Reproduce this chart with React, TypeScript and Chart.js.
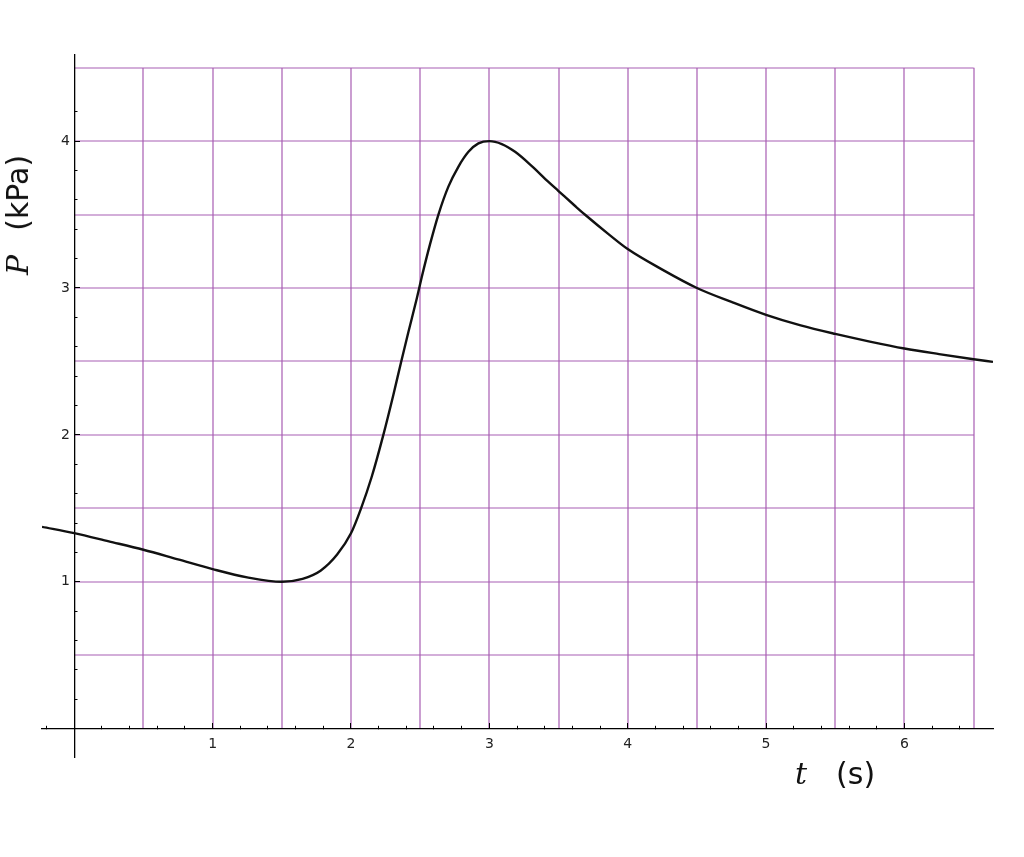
import React, { useRef, useEffect } from "react";
import Chart from "chart.js/auto";

// curve: time (s) and pressure (kPa)
const tValues = [
  -0.233, 0, 0.25, 0.5, 0.75, 1, 1.25, 1.5, 1.65, 1.78, 1.9, 2, 2.071, 2.15,
  2.234, 2.307, 2.362, 2.415, 2.476, 2.512, 2.572, 2.632, 2.704, 2.776, 2.849,
  2.921, 3, 3.09, 3.186, 3.307, 3.427, 3.5, 3.62, 3.69, 3.87, 4, 4.25, 4.5,
  4.75, 5, 5.25, 5.5, 5.75, 6, 6.25, 6.5, 6.64,
];
const pValues = [
  1.374, 1.331, 1.275, 1.218, 1.152, 1.086, 1.03, 1.0, 1.02, 1.075, 1.185,
  1.33, 1.495, 1.715, 2.0, 2.275, 2.495, 2.7, 2.93, 3.076, 3.3, 3.5, 3.69,
  3.825, 3.927, 3.984, 4.0, 3.98, 3.927, 3.83, 3.722, 3.66, 3.558, 3.5, 3.36,
  3.265, 3.125, 3.0, 2.905, 2.817, 2.745, 2.687, 2.635, 2.588, 2.55, 2.515,
  2.497,
];

const xMajorTicks = [1, 2, 3, 4, 5, 6];
const xMinorTicks = [
  -0.2, 0.2, 0.4, 0.6, 0.8, 1.2, 1.4, 1.6, 1.8, 2.2, 2.4, 2.6, 2.8, 3.2, 3.4,
  3.6, 3.8, 4.2, 4.4, 4.6, 4.8, 5.2, 5.4, 5.6, 5.8, 6.2, 6.4,
];
const yMajorTicks = [1, 2, 3, 4];
const yMinorTicks = [
  0.2, 0.4, 0.6, 0.8, 1.2, 1.4, 1.6, 1.8, 2.2, 2.4, 2.6, 2.8, 3.2, 3.4, 3.6,
  3.8, 4.2,
];
const xGridLines = [0.5, 1, 1.5, 2, 2.5, 3, 3.5, 4, 4.5, 5, 5.5, 6, 6.5];
const yGridLines = [0.5, 1, 1.5, 2, 2.5, 3, 3.5, 4, 4.5];

const X_MIN = -0.233;
const X_MAX = 6.64;
const Y_MIN = -0.193;
const Y_MAX = 4.586;

const tickFont = { family: "DejaVu Sans", size: 14 };

// purple graph-paper grid, limited to the [0, 6.5] x [0, 4.5] block
const paperGrid = {
  id: "paperGrid",
  beforeDraw(chart: any) {
    const { ctx } = chart;
    const x = chart.scales.x;
    const y = chart.scales.y;
    const left = x.getPixelForValue(0);
    const right = x.getPixelForValue(xGridLines[xGridLines.length - 1]);
    const bottom = y.getPixelForValue(0);
    const top = y.getPixelForValue(yGridLines[yGridLines.length - 1]);
    ctx.save();
    ctx.strokeStyle = "rgba(135, 30, 150, 0.72)";
    ctx.lineWidth = 1.2;
    ctx.beginPath();
    xGridLines.forEach((v) => {
      const px = Math.round(x.getPixelForValue(v));
      ctx.moveTo(px, top);
      ctx.lineTo(px, bottom);
    });
    yGridLines.forEach((v) => {
      const py = Math.round(y.getPixelForValue(v));
      ctx.moveTo(left, py);
      ctx.lineTo(right, py);
    });
    ctx.stroke();
    ctx.restore();
  },
};

const PressureChart = () => {
  const chartRef = useRef<HTMLCanvasElement>(null);
  const chartInstance = useRef<Chart | null>(null);

  useEffect(() => {
    if (chartRef.current) {
      chartInstance.current = new Chart(chartRef.current, {
        type: "line",
        data: {
          datasets: [
            {
              label: "P",
              data: tValues.map((t, i) => ({ x: t, y: pValues[i] })),
              borderColor: "#111111",
              borderWidth: 2.4,
              pointRadius: 0,
              fill: false,
              cubicInterpolationMode: "monotone",
              xAxisID: "x",
              yAxisID: "y",
            },
          ],
        },
        options: {
          animation: false,
          responsive: true,
          maintainAspectRatio: false,
          layout: { padding: { left: 42, right: 31, top: 55, bottom: 100 } },
          plugins: {
            legend: { display: false },
            tooltip: { enabled: false },
          },
          scales: {
            x: {
              type: "linear",
              axis: "x",
              min: X_MIN,
              max: X_MAX,
              position: { y: 0 },
              afterBuildTicks: (s: any) => {
                s.ticks = xMinorTicks.map((value) => ({ value }));
              },
              grid: {
                drawOnChartArea: false,
                tickLength: -3.5,
                tickColor: "#000000",
                tickWidth: 1,
              },
              border: { display: true, color: "#000000", width: 1.3 },
              ticks: { autoSkip: false, maxRotation: 0, callback: () => "" },
            },
            x2: {
              type: "linear",
              axis: "x",
              min: X_MIN,
              max: X_MAX,
              position: { y: 0 },
              afterBuildTicks: (s: any) => {
                s.ticks = xMajorTicks.map((value) => ({ value }));
              },
              grid: {
                drawOnChartArea: false,
                tickLength: -6,
                tickColor: "#000000",
                tickWidth: 1,
              },
              border: { display: false },
              ticks: {
                autoSkip: false,
                maxRotation: 0,
                padding: 13,
                color: "#222222",
                font: tickFont,
                callback: (v: any) => String(v),
              },
            },
            y: {
              type: "linear",
              axis: "y",
              min: Y_MIN,
              max: Y_MAX,
              position: { x: 0 },
              afterBuildTicks: (s: any) => {
                s.ticks = yMinorTicks.map((value) => ({ value }));
              },
              grid: {
                drawOnChartArea: false,
                tickLength: -3.5,
                tickColor: "#000000",
                tickWidth: 1,
              },
              border: { display: true, color: "#000000", width: 1.3 },
              ticks: { autoSkip: false, callback: () => "" },
            },
            y2: {
              type: "linear",
              axis: "y",
              min: Y_MIN,
              max: Y_MAX,
              position: { x: 0 },
              afterBuildTicks: (s: any) => {
                s.ticks = yMajorTicks.map((value) => ({ value }));
              },
              grid: {
                drawOnChartArea: false,
                tickLength: -6,
                tickColor: "#000000",
                tickWidth: 1,
              },
              border: { display: false },
              ticks: {
                autoSkip: false,
                color: "#222222",
                font: tickFont,
                callback: (v: any) => String(v) + " ",
              },
            },
          },
        },
        plugins: [paperGrid],
      } as any);
    }
    return () => {
      chartInstance.current?.destroy();
    };
  }, []);

  return <canvas ref={chartRef} />;
};

export default function App() {
  return (
    <div
      style={{
        position: "absolute",
        left: 0,
        top: 0,
        width: 1024,
        height: 857,
        background: "#ffffff",
      }}
    >
      <PressureChart />
      <div
        style={{
          position: "absolute",
          left: 795,
          top: 756,
          fontSize: 30,
          lineHeight: "36px",
          whiteSpace: "nowrap",
          color: "#111111",
        }}
      >
        <span style={{ fontFamily: "DejaVu Serif", fontStyle: "italic" }}>t</span>
        <span style={{ fontFamily: "DejaVu Sans", marginLeft: 29 }}>(s)</span>
      </div>
      <div
        style={{
          position: "absolute",
          left: 18,
          top: 215,
          fontSize: 30,
          lineHeight: "36px",
          whiteSpace: "nowrap",
          color: "#111111",
          transform: "translate(-50%, -50%) rotate(-90deg)",
        }}
      >
        <span style={{ fontFamily: "DejaVu Serif", fontStyle: "italic" }}>P</span>
        <span style={{ fontFamily: "DejaVu Sans", marginLeft: 24 }}>(kPa)</span>
      </div>
    </div>
  );
}
